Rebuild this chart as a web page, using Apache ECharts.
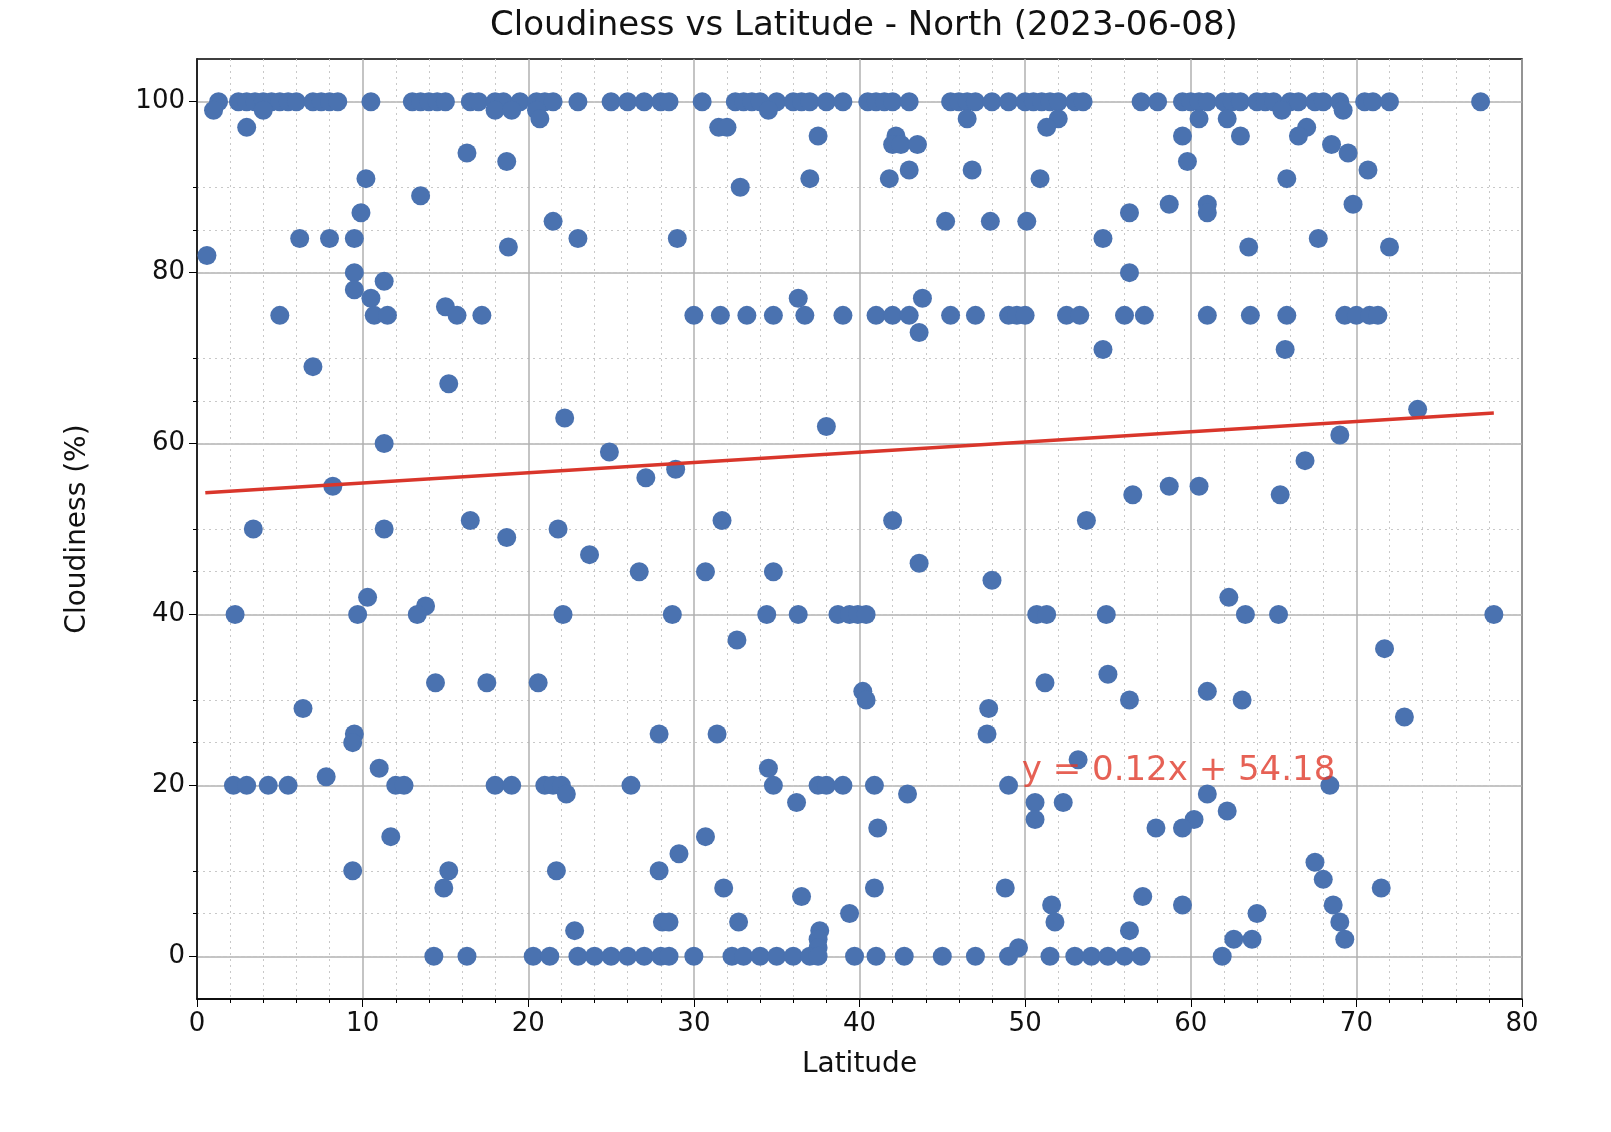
<!DOCTYPE html>
<html><head><meta charset="utf-8">
<script src="https://cdn.jsdelivr.net/npm/echarts@6/dist/echarts.min.js"></script>
<style>html,body{margin:0;background:#fff}#c{width:1611px;height:1132px}</style>
</head><body><div id="c"></div>
<script>
// 纬度/云量 数据，按云量分组：[云量, 纬度...]
const cloudRows = [
  [100, 1.3,2.5,3,3.5,4,4.5,5,5.5,6,7,7.5,8,8.5,10.5,13,13.5,14,14.5,15,16.5,17,18,18.5,19.5,20.5,21,21.5,23,25,26,27,28,28.5,30.5,32.5,33,33.5,34,35,36,36.5,37,38,39,40.5,41,41.5,42,43,45.5,46,46.5,47,48,49,50,50.5,51,51.5,52,53,53.5,57,58,59.5,60,60.5,61,62,62.5,63,64,64.5,65,66,66.5,67.5,68,69,70.5,71,72,77.5],
  [99, 1,4,18,19,20.5,34.5,65.5,69.2],
  [98, 20.7,46.5,52,60.5,62.2],
  [97, 3,31.5,32,51.3,67],
  [96, 37.5,42.2,59.5,63,66.5],
  [95, 42,42.5,43.5,68.5],
  [94, 16.3,69.5],
  [93, 18.7,59.8],
  [92, 46.8,43,70.7],
  [91, 10.2,37,41.8,50.9,65.8],
  [90, 32.8],
  [89, 13.5],
  [88, 58.7,61,69.8],
  [87, 9.9,56.3,61],
  [86, 21.5,45.2,47.9,50.1],
  [84, 6.2,8,9.5,23,29,54.7,67.7],
  [83, 18.8,63.5,72],
  [82, 0.6],
  [80, 9.5,56.3],
  [79, 11.3],
  [78, 9.5],
  [77, 10.5,36.3,43.8],
  [76, 15],
  [75, 5,10.7,11.5,15.7,17.2,30,31.6,33.2,34.8,36.7,39,41,42,43,45.5,47,49,49.5,50,52.5,53.3,56,57.2,61,63.6,65.8,69.3,70,70.8,71.3],
  [73, 43.6],
  [71, 54.7,65.7],
  [69, 7],
  [67, 15.2],
  [64, 73.7],
  [63, 22.2],
  [62, 38],
  [61, 69],
  [60, 11.3],
  [59, 24.9],
  [58, 66.9],
  [57, 28.9],
  [56, 27.1],
  [55, 8.2,58.7,60.5],
  [54, 56.5,65.4],
  [51, 16.5,31.7,42,53.7],
  [50, 3.4,11.3,21.8],
  [49, 18.7],
  [47, 23.7],
  [46, 43.6],
  [45, 26.7,30.7,34.8],
  [44, 48],
  [42, 10.3,62.3],
  [41, 13.8],
  [40, 2.3,9.7,13.3,22.1,28.7,34.4,36.3,38.7,39.4,39.9,40.4,50.7,51.3,54.9,63.3,65.3,78.3],
  [37, 32.6],
  [36, 71.7],
  [33, 55],
  [32, 14.4,17.5,20.6,51.2],
  [31, 40.2,61],
  [30, 40.4,56.3,63.1],
  [29, 6.4,47.8],
  [28, 72.9],
  [26, 9.5,27.9,31.4,47.7],
  [25, 9.4],
  [23, 53.2],
  [22, 11,34.5],
  [21, 7.8],
  [20, 2.2,3,4.3,5.5,12,12.5,18,19,21,21.5,22,26.2,34.8,37.5,38,39,40.9,49,68.4],
  [19, 22.3,42.9,61],
  [18, 36.2,50.6,52.3],
  [17, 62.2],
  [16, 50.6,60.2],
  [15, 41.1,57.9,59.5],
  [14, 11.7,30.7],
  [12, 29.1],
  [11, 67.5],
  [10, 9.4,15.2,21.7,27.9],
  [9, 68],
  [8, 14.9,31.8,40.9,48.8,71.5],
  [7, 36.5,57.1],
  [6, 51.6,59.5,68.6],
  [5, 39.4,64],
  [4, 28.1,28.5,32.7,51.8,69],
  [3, 22.8,37.6,56.3],
  [2, 37.5,62.6,63.7,69.3],
  [1, 37.5,49.6],
  [0, 14.3,16.3,20.3,21.3,23,24,25,26,27,28,28.5,30,32.3,33,34,35,36,37,37.5,39.7,41,42.7,45,47,49,51.5,53,54,55,56,57,61.9]
];
const slope = 0.12, intercept = 54.18;
const fitRange = [0.5, 78.3];
const eqText = "y = 0.12x + 54.18";

const points = [];
cloudRows.forEach(r => r.slice(1).forEach(lat => points.push([lat, r[0]])));
const fitLine = fitRange.map(x => [x, slope * x + intercept]);

const chart = echarts.init(document.getElementById("c"));
const font = "DejaVu Sans";
chart.setOption({
  animation: false,
  textStyle: { fontFamily: font },
  title: {
    text: "Cloudiness vs Latitude - North (2023-06-08)",
    left: 859, top: 4, textAlign: "center",
    textStyle: { fontSize: 34, fontWeight: "normal", color: "#111", fontFamily: font }
  },
  grid: { left: 197, right: 89, top: 59, bottom: 133, show: true, borderColor: "#000", borderWidth: 1.5 },
  xAxis: {
    type: "value", min: 0, max: 80, interval: 10,
    name: "Latitude", nameLocation: "middle", nameGap: 52,
    nameTextStyle: { fontSize: 28, color: "#111" },
    axisLine: { onZero: false, lineStyle: { color: "#000", width: 1.5 } },
    axisTick: { length: 8, lineStyle: { color: "#000" } },
    minorTick: { show: true, splitNumber: 5, length: 4, lineStyle: { color: "#000" } },
    axisLabel: { fontSize: 26, color: "#111", margin: 12 },
    splitLine: { lineStyle: { color: "#b0b0b0", width: 1.5 } },
    minorSplitLine: { show: true, lineStyle: { color: "#c8c8c8", type: [2, 4] } }
  },
  yAxis: {
    type: "value", min: -5, max: 105,
    name: "Cloudiness (%)", nameLocation: "middle", nameGap: 105,
    nameTextStyle: { fontSize: 28, color: "#111" },
    axisLine: { onZero: false, lineStyle: { color: "#000", width: 1.5 } },
    axisTick: { length: 8, lineStyle: { color: "#000" }, customValues: [0, 20, 40, 60, 80, 100] },
    axisLabel: { fontSize: 26, color: "#111", margin: 12, customValues: [0, 20, 40, 60, 80, 100] },
    splitLine: { lineStyle: { color: "#b0b0b0", width: 1.5 }, customValues: [0, 20, 40, 60, 80, 100] },
    minorTick: { show: true, splitNumber: 4, length: 4, lineStyle: { color: "#000" } },
    minorSplitLine: { show: true, lineStyle: { color: "#c8c8c8", type: [2, 4] } },
    interval: 20
  },
  series: [
    {
      type: "scatter", data: points, symbolSize: 19,
      itemStyle: { color: "#4a72b0", opacity: 1 }
    },
    {
      type: "line", data: fitLine, symbol: "none",
      lineStyle: { color: "#d9362b", width: 3.5 }, z: 5
    },
    {
      type: "scatter", data: [[49.8, 20]], symbolSize: 0, z: 6,
      label: { show: true, position: "right", distance: 0, offset: [0, -14], formatter: eqText,
        fontSize: 34, color: "#e0392b" }
    }
  ]
});
</script></body></html>
